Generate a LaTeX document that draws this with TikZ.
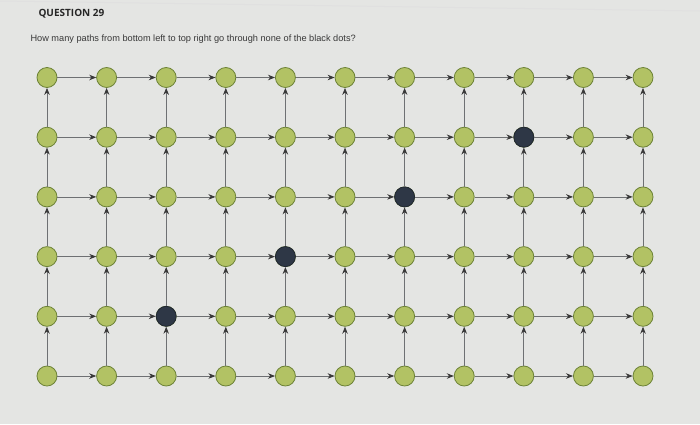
\documentclass[tikz,border=0pt]{standalone}
\usepackage{fontspec}
\setmainfont{Liberation Sans}
\newfontfamily\headfont{Open Sans}
\usetikzlibrary{arrows.meta}

\definecolor{pagegray}{HTML}{E4E5E3}
\definecolor{dotgreen}{HTML}{B2C264}
\definecolor{dotedge}{HTML}{6C8236}
\definecolor{dotdark}{HTML}{2E3746}
\definecolor{linkgray}{HTML}{6E7073}

\begin{document}
\begin{tikzpicture}[x=1pt,y=-1pt,>/.tip={Stealth[length=7pt,width=5.5pt,color=black!78]},
  dot/.style={circle,draw=dotedge,fill=dotgreen,line width=0.8pt,minimum size=20pt,inner sep=0pt},
  blocked/.style={dot,draw=dotdark!70!black,fill=dotdark},
  link/.style={->,draw=linkgray,line width=0.8pt}]
\fill[pagegray] (0,0) rectangle (700,424);
\useasboundingbox (0,0) rectangle (700,424);
\draw[black!12,line width=1pt] (0,1) -- (700,11);
\node[anchor=base west,font=\headfont\bfseries\fontsize{10}{12}\selectfont,text=black!85] (title) at (35,16) {QUESTION 29};
\node[anchor=base west,font=\fontsize{9.2}{11}\selectfont,text=black!78] (question) at (27,41)
  {How many paths from bottom left to top right go through none of the black dots?};
% grid of dots, column \i, row \j counted from the bottom
\foreach \i in {0,...,10} {
	\foreach \j in {0,...,5} {
		\draw (47+59.6*\i,376-59.7*\j) node[dot] (n\i-\j) {};
	}
}
\foreach \i/\j in {2/1,4/2,6/3,8/4} {
	\node[blocked] (b\i) at (n\i-\j) {};
}
% right steps
\foreach \i in {0,...,9} {
	\foreach \j in {0,...,5} {
		\pgfmathtruncatemacro\k{\i+1}
		\draw[link] (n\i-\j) -- (n\k-\j);
	}
}
% up steps
\foreach \i in {0,...,10} {
	\foreach \j in {0,...,4} {
		\pgfmathtruncatemacro\k{\j+1}
		\draw[link] (n\i-\j) -- (n\i-\k);
	}
}
\end{tikzpicture}
\end{document}
